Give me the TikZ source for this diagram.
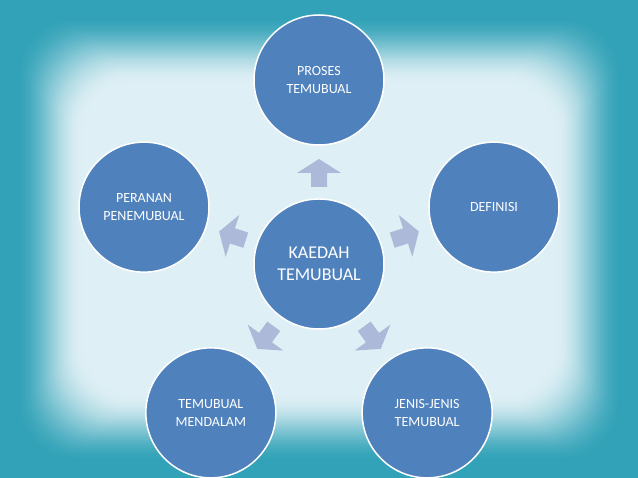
\documentclass[tikz,border=0pt]{standalone}
\usepackage{fontspec}
\setmainfont{Carlito}
\usetikzlibrary{calc}
\definecolor{teal1}{RGB}{50,162,184}
\definecolor{circblue}{RGB}{79,129,189}
\definecolor{arrowcol}{RGB}{172,185,216}
\begin{document}
\begin{tikzpicture}[x=1pt,y=1pt,
  outercirc/.style={circle, minimum size=130pt, inner sep=0pt, fill=circblue, draw=white, line width=1.5pt, text=white, align=center, font=\fontsize{14}{17.5}\selectfont},
  centercirc/.style={outercirc, font=\fontsize{18}{22}\selectfont},
  blockarrow/.style={fill=arrowcol}]
% background: teal frame fading into a light centre (opaque colour steps)
\fill[teal1] (0,0) rectangle (638,478);
\foreach \k in {1,...,40}{
  \pgfmathsetmacro{\d}{16+1.7*(\k-1)}
  \pgfmathsetmacro{\t}{\k/40}
  \pgfmathsetmacro{\m}{3*\t*\t-2*\t*\t*\t}
  \pgfmathtruncatemacro{\rr}{50+172*\m}
  \pgfmathtruncatemacro{\gg}{162+78*\m}
  \pgfmathtruncatemacro{\bb}{184+61*\m}
  \definecolor{bgstep}{RGB}{\rr,\gg,\bb}
  \fill[bgstep, rounded corners=55pt] (\d,\d) rectangle (638-\d,478-\d);
}
\useasboundingbox (0,0) rectangle (638,478);
% nodes
\node[centercirc] (c) at (319,214) {KAEDAH\\TEMUBUAL};
\node[outercirc] (p1) at ($(c)+(90:184)$) {PROSES\\TEMUBUAL};
\node[outercirc] (p2) at ($(c)+(18:184)$) {DEFINISI};
\node[outercirc] (p3) at ($(c)+(-54:184)$) {JENIS-JENIS\\TEMUBUAL};
\node[outercirc] (p4) at ($(c)+(-126:184)$) {TEMUBUAL\\MENDALAM};
\node[outercirc] (p5) at ($(c)+(162:184)$) {PERANAN\\PENEMUBUAL};
% block arrows
\foreach \a in {90,18,-54,-126,162}{
  \fill[blockarrow, shift={(c)}, rotate=\a]
    (77,-8) -- (91,-8) -- (91,-22) -- (105,0) -- (91,22) -- (91,8) -- (77,8) -- cycle;
}
\end{tikzpicture}
\end{document}
